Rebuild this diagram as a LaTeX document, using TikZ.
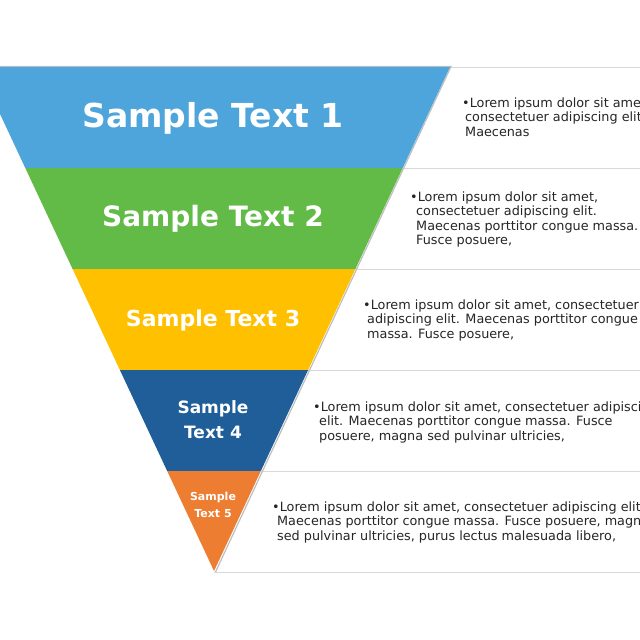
\documentclass[tikz,border=0pt]{standalone}
\usepackage{fontspec}
\setmainfont{DejaVu Sans}
\definecolor{bandA}{HTML}{4EA5DB}
\definecolor{bandB}{HTML}{62BB47}
\definecolor{bandC}{HTML}{FFC000}
\definecolor{bandD}{HTML}{1F5E99}
\definecolor{bandE}{HTML}{ED7D31}
\definecolor{sepgray}{HTML}{D9D9D9}
\definecolor{bodygray}{HTML}{262626}
\begin{document}
\begin{tikzpicture}[x=1pt,y=-1pt,
  title/.style={text=white,font=\bfseries,align=center,inner sep=0pt},
  body/.style={text=bodygray,align=left,inner sep=0pt,anchor=north west,
    font=\fontsize{12.8}{14.3}\selectfont},
  sepline/.style={draw=sepgray,line width=0.9pt},
  shadowline/.style={draw=black!25,line width=1.2pt}]
\useasboundingbox (0,0) rectangle (640,640);
\fill[white] (0,0) rectangle (640,640);
\begin{scope}
\clip (0,0) rectangle (640,640);
% separator lines
\draw[sepline] (451,67.5) -- (640,67.5);
\draw[sepline] (403,168) -- (640,168);
\draw[sepline] (356,269) -- (640,269);
\draw[sepline] (308,370) -- (640,370);
\draw[sepline] (261,471) -- (640,471);
\draw[sepline] (214,572) -- (640,572);
% shadow of the funnel
\draw[shadowline] (-22,66.5) -- (451,66.5) -- (215.5,572);
% funnel bands
\begin{scope}
\clip (-22,67) -- (450,67) -- (214,571) -- cycle;
\fill[bandA] (-30,60) rectangle (460,168);
\fill[bandB] (-30,168) rectangle (460,269);
\fill[bandC] (-30,269) rectangle (460,370);
\fill[bandD] (-30,370) rectangle (460,471);
\fill[bandE] (-30,471) rectangle (460,580);
\end{scope}
% titles
\node[title,font=\fontsize{33}{36}\bfseries\selectfont] (t1) at (213,118) {Sample Text 1};
\node[title,font=\fontsize{28}{32}\bfseries\selectfont] (t2) at (213,219) {Sample Text 2};
\node[title,font=\fontsize{22}{26}\bfseries\selectfont] (t3) at (213,320) {Sample Text 3};
\node[title,font=\fontsize{17}{25}\bfseries\selectfont] (t4) at (213,420) {Sample\\Text 4};
\node[title,font=\fontsize{11}{17}\bfseries\selectfont] (t5) at (213,505) {Sample\\Text 5};
% descriptions
\node[body] (d1) at (462,97.5) {\textbullet Lorem ipsum dolor sit amet\\
  \hspace*{3pt}consectetuer adipiscing elit\\
  \hspace*{3pt}Maecenas};
\node[body] (d2) at (410,191.5) {\textbullet Lorem ipsum dolor sit amet,\\
  \hspace*{6pt}consectetuer adipiscing elit.\\
  \hspace*{6pt}Maecenas porttitor congue massa.\\
  \hspace*{6pt}Fusce posuere,};
\node[body] (d3) at (363,299.5) {\textbullet Lorem ipsum dolor sit amet, consectetuer\\
  \hspace*{4pt}adipiscing elit. Maecenas porttitor congue\\
  \hspace*{4pt}massa. Fusce posuere,};
\node[body] (d4) at (313,401.5) {\textbullet Lorem ipsum dolor sit amet, consectetuer adipiscing\\
  \hspace*{6pt}elit. Maecenas porttitor congue massa. Fusce\\
  \hspace*{6pt}posuere, magna sed pulvinar ultricies,};
\node[body] (d5) at (272,501.5) {\textbullet Lorem ipsum dolor sit amet, consectetuer adipiscing elit.\\
  \hspace*{5pt}Maecenas porttitor congue massa. Fusce posuere, magna\\
  \hspace*{5pt}sed pulvinar ultricies, purus lectus malesuada libero,};
\end{scope}
\end{tikzpicture}
\end{document}
